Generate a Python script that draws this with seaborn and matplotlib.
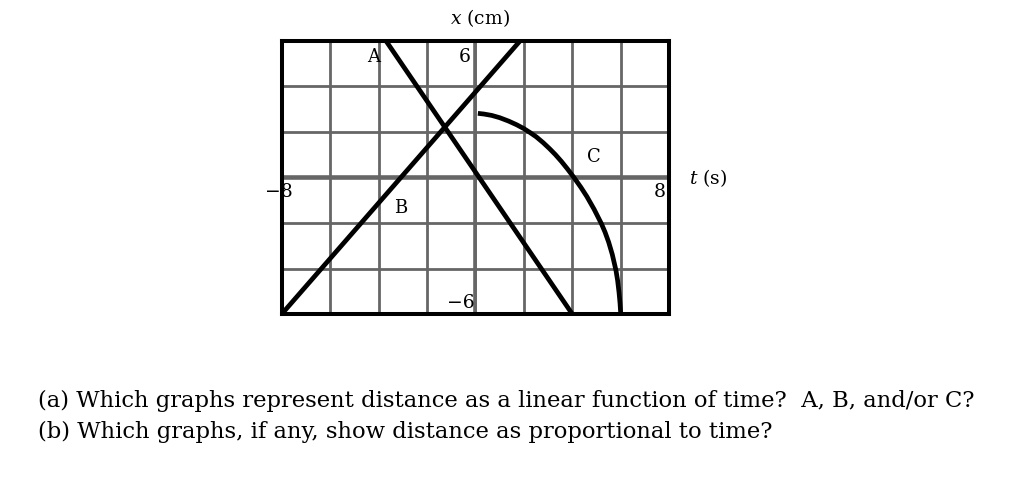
import matplotlib
matplotlib.use("Agg")
import matplotlib.pyplot as plt
import seaborn as sns
import pandas as pd

# ---- data ----
t_range = [-8, 8]
x_range = [-6, 6]
grid_t = [-8, -6, -4, -2, 0, 2, 4, 6, 8]
grid_x = [-6, -4, -2, 0, 2, 4, 6]

line_A_t = [-3.7, 4.0]
line_A_x = [6.0, -6.0]

line_B_t = [-8.0, 1.85]
line_B_x = [-6.0, 6.0]

curve_C_t = [0.1, 0.35, 0.67, 1.0, 1.37, 1.7, 2.0, 2.25, 2.51, 2.8, 3.06, 3.3, 3.55,
             3.8, 4.05, 4.35, 4.6, 4.9, 5.2, 5.35, 5.5, 5.65, 5.8, 5.87, 5.93, 5.97, 6.0]
curve_C_x = [2.81, 2.78, 2.72, 2.62, 2.47, 2.31, 2.14, 1.97, 1.78, 1.52, 1.26, 1.0, 0.7,
             0.37, 0.02, -0.43, -0.84, -1.4, -2.03, -2.4, -2.84, -3.38, -4.07, -4.52,
             -5.06, -5.52, -6.0]

question_a = "(a) Which graphs represent distance as a linear function of time?  A, B, and/or C?"
question_b = "(b) Which graphs, if any, show distance as proportional to time?"

# ---- style ----
sns.set_theme(style="white")
plt.rcParams["font.family"] = ["DejaVu Serif"]
plt.rcParams["mathtext.fontset"] = "dejavuserif"

fig = plt.figure(figsize=(10.17, 4.9), dpi=100)
ax = fig.add_axes([0.277, 0.359, 0.381, 0.558])

grid_color = "#666666"
ax.set_xlim(*t_range)
ax.set_ylim(*x_range)
ax.set_xticks(grid_t)
ax.set_yticks(grid_x)
ax.grid(True, color=grid_color, linewidth=2.0)
ax.tick_params(length=0, labelbottom=False, labelleft=False)
ax.axhline(0, color=grid_color, linewidth=3.3, zorder=1.5)
ax.axvline(0, color=grid_color, linewidth=2.6, zorder=1.5)
for sp in ax.spines.values():
    sp.set_color("black")
    sp.set_linewidth(2.9)
    sp.set_zorder(5)

df_A = pd.DataFrame({"t": line_A_t, "x": line_A_x})
df_B = pd.DataFrame({"t": line_B_t, "x": line_B_x})
df_C = pd.DataFrame({"t": curve_C_t, "x": curve_C_x})
kw = dict(color="black", linewidth=3.4, sort=False, estimator=None, zorder=4)
sns.lineplot(data=df_A, x="t", y="x", ax=ax, **kw)
sns.lineplot(data=df_B, x="t", y="x", ax=ax, **kw)
sns.lineplot(data=df_C, x="t", y="x", ax=ax, solid_joinstyle="round",
             solid_capstyle="butt", **kw)
ax.set_xlabel("")
ax.set_ylabel("")

lab = dict(fontsize=13, ha="center", va="center", color="black", zorder=6)
num = dict(fontsize=13.5, ha="center", va="center", color="black", zorder=6)
ax.text(-4.2, 5.3, "A", **lab)
ax.text(-3.1, -1.35, "B", **lab)
ax.text(4.87, 0.9, "C", **lab)
ax.text(-0.45, 5.3, "6", **num)
ax.text(-0.6, -5.5, "\u22126", **num)
ax.text(-8.1, -0.65, "\u22128", clip_on=False, **num)
ax.text(7.6, -0.65, "8", **num)

fig.text(480 / 1017, 1 - 18 / 490, "$x$ (cm)", fontsize=13.5, ha="center", va="center",
         color="black")
fig.text(708 / 1017, 1 - 178 / 490, "$t$ (s)", fontsize=13.5, ha="center", va="center",
         color="black")

fig.text(38 / 1017, 1 - 401 / 490, question_a, fontsize=16.3, ha="left", va="center",
         color="black")
fig.text(38 / 1017, 1 - 432 / 490, question_b, fontsize=16.3, ha="left", va="center",
         color="black")

fig.savefig("out.png", dpi=100)
